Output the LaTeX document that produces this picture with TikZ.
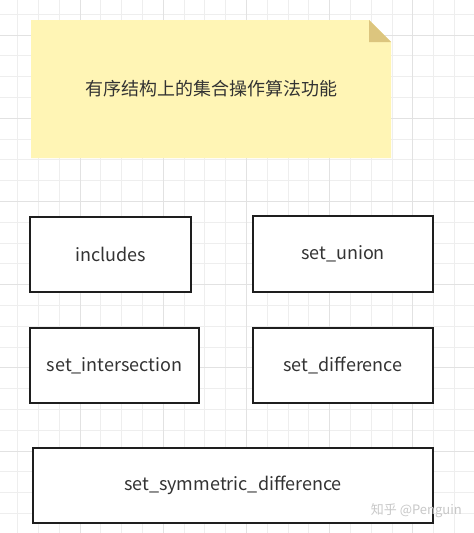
\documentclass[tikz,border=0pt]{standalone}
\usepackage{fontspec}
\setmainfont{Noto Sans CJK SC}
\newfontfamily\cjk{Noto Sans CJK SC}
\definecolor{gridminor}{HTML}{EEEEEE}
\definecolor{gridmajor}{HTML}{E2E2E2}
\definecolor{notefill}{HTML}{FFF5B5}
\definecolor{notefold}{HTML}{DCC57E}
\definecolor{txt}{HTML}{333333}
\definecolor{boxline}{HTML}{1E1E1E}
\definecolor{wm}{HTML}{C8C8C8}
\tikzset{
  opbox/.style={draw=boxline, line width=2pt, fill=white, inner sep=0pt,
    font=\fontsize{18}{20}\selectfont, text=txt},
}
\begin{document}
\begin{tikzpicture}[x=1pt,y=-1pt]
\useasboundingbox (0,0) rectangle (474,533);
\fill[white] (0,0) rectangle (474,533);
\begin{scope}
\clip (0,0) rectangle (474,533);
\foreach \k in {-4,...,19} {
  \pgfmathsetmacro{\xx}{80+20.8*\k}
  \draw[gridminor, line width=0.8pt] (\xx,0) -- (\xx,533);
}
\foreach \k in {-2,...,24} {
  \pgfmathsetmacro{\yy}{35+20.8*\k}
  \draw[gridminor, line width=0.8pt] (0,\yy) -- (474,\yy);
}
\foreach \k in {-1,...,4} {
  \pgfmathsetmacro{\xx}{80+83.2*\k}
  \draw[gridmajor, line width=1pt] (\xx,0) -- (\xx,533);
}
\foreach \k in {0,...,6} {
  \pgfmathsetmacro{\yy}{35+83.2*\k}
  \draw[gridmajor, line width=1pt] (0,\yy) -- (474,\yy);
}
\end{scope}
% note
\fill[notefill] (31,20) -- (369,20) -- (391,42) -- (391,158) -- (31,158) -- cycle;
\fill[notefold] (369,20) -- (369,42) -- (391,42) -- cycle;
\node[text=txt, font=\cjk\fontsize{18}{20}\selectfont] (note) at (211,89) {有序结构上的集合操作算法功能};
% boxes
\node[opbox, minimum width=161pt, minimum height=75pt] (incl) at (110.5,254) {includes};
\node[opbox, minimum width=180pt, minimum height=76pt] (union) at (343,254) {set\_union};
\node[opbox, minimum width=169pt, minimum height=75pt] (inter) at (114.5,365.5) {set\_intersection};
\node[opbox, minimum width=180pt, minimum height=75pt] (diff) at (343,365.5) {set\_difference};
\node[opbox, minimum width=400pt, minimum height=75pt] (sym) at (233,485.5) {set\_symmetric\_difference};
% watermark
\node[text=wm, font=\cjk\fontsize{13}{14}\selectfont, anchor=east, inner sep=0pt] (wmk) at (462,511) {知乎 @Penguin};
\end{tikzpicture}
\end{document}
